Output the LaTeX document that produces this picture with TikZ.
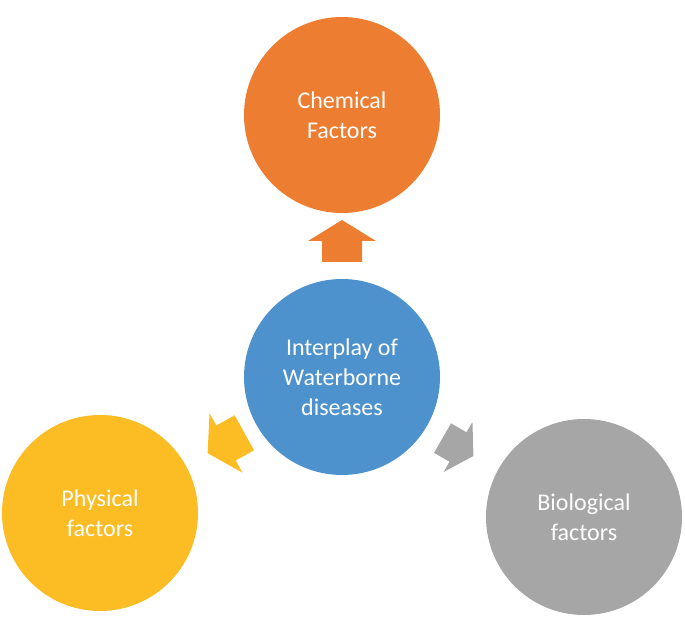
\documentclass[tikz,border=0pt]{standalone}
\usepackage{fontspec}
\setmainfont{Carlito}
\usetikzlibrary{positioning}
\definecolor{chemorange}{RGB}{237,125,49}
\definecolor{centerblue}{RGB}{77,146,204}
\definecolor{physyellow}{RGB}{251,188,36}
\definecolor{biogray}{RGB}{166,166,166}
\tikzset{
  factor/.style={circle, minimum size=196pt, inner sep=0pt, text=white, align=center, font=\fontsize{24}{30}\selectfont},
  blockarrow/.pic={\fill[pic actions] (-21,-20) -- (0,-20) -- (0,-34) -- (21,0) -- (0,34) -- (0,20) -- (-21,20) -- cycle;}
}
\begin{document}
\begin{tikzpicture}[x=1pt,y=1pt]
\useasboundingbox (0,0) rectangle (685,619);

\node[factor, fill=centerblue] at (342,242) (water) {Interplay of\\Waterborne\\diseases};
\node[factor, fill=chemorange] at (342,504) (chem) {Chemical\\Factors};
\node[factor, fill=physyellow] at (100,106) (phys) {Physical\\factors};
\node[factor, fill=biogray] at (584,102) (bio) {Biological\\factors};

\pic[fill=chemorange, rotate=90] at (342,378) {blockarrow};
\pic[fill=physyellow, rotate=209] at (226,176) {blockarrow};
\pic[fill=biogray, rotate=-30, scale=0.85] at (458,172) {blockarrow};

\end{tikzpicture}
\end{document}
